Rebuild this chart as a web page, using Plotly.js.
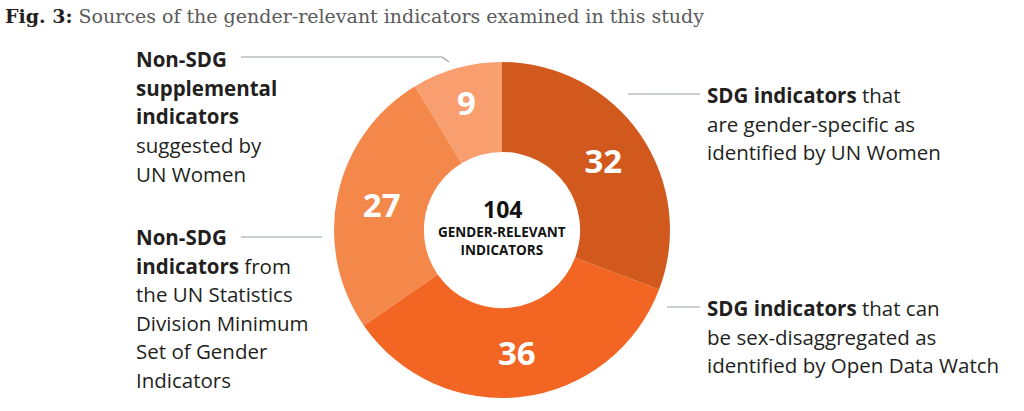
<!DOCTYPE html>
<html>
<head>
<meta charset="utf-8">
<script src="https://cdn.plot.ly/plotly-3.0.1.min.js"></script>
<style>html,body{margin:0;padding:0;background:#fff;}#chart{width:1024px;height:411px;}</style>
</head>
<body>
<div id="chart"></div>
<script>
// ---- data ----
const categories = [
  "SDG indicators that are gender-specific as identified by UN Women",
  "SDG indicators that can be sex-disaggregated as identified by Open Data Watch",
  "Non-SDG indicators from the UN Statistics Division Minimum Set of Gender Indicators",
  "Non-SDG supplemental indicators suggested by UN Women"
];
const values = [32, 36, 27, 9];
const sliceColors = ["#D1591E", "#F26522", "#F4874A", "#F89E6F"];
const titleBold = "Fig. 3:";
const titleRest = " Sources of the gender-relevant indicators examined in this study";
const centerTotal = "104";
const centerLines = ["GENDER-RELEVANT", "INDICATORS"];
const labelTopLeft = ["<b>Non-SDG</b>", "<b>supplemental</b>", "<b>indicators</b>", "suggested by", "UN Women"];
const labelBottomLeft = ["<b>Non-SDG</b>", "<b>indicators</b> from", "the UN Statistics", "Division Minimum", "Set of Gender", "Indicators"];
const labelTopRight = ["<b>SDG indicators</b> that", "are gender-specific as", "identified by UN Women"];
const labelBottomRight = ["<b>SDG indicators</b> that can", "be sex-disaggregated as", "identified by Open Data Watch"];

// ---- layout helpers ----
const W = 1024, H = 411;
const px = x => x / W;
const py = y => 1 - y / H;
const cx = 502, cy = 230, R = 168;

const textFont = {family: "Open Sans, sans-serif", size: 20.5, color: "#231F20"};
const annotations = [];
function block(lines, x, y0, step) {
  lines.forEach((t, i) => {
    annotations.push({
      text: t, x: px(x), y: py(y0 + i * step), xref: "paper", yref: "paper",
      xanchor: "left", yanchor: "middle", showarrow: false, font: textFont
    });
  });
}
block(labelTopLeft, 134, 59, 28.7);
block(labelBottomLeft, 134, 237, 28.5);
block(labelTopRight, 705, 95, 28.5);
block(labelBottomRight, 705, 308, 28.5);

annotations.push({
  text: "<b>" + titleBold + "</b><span style='color:#5a5a5a'>" + titleRest + "</span>",
  x: px(3), y: py(16), xref: "paper", yref: "paper", xanchor: "left", yanchor: "middle",
  showarrow: false, font: {family: "DejaVu Serif, serif", size: 19, color: "#231F20"}
});
annotations.push({
  text: "<b>" + centerTotal + "</b>", x: px(cx), y: py(209), xref: "paper", yref: "paper",
  xanchor: "center", yanchor: "middle", showarrow: false,
  font: {family: "Open Sans, sans-serif", size: 23, color: "#111"}
});
annotations.push({
  text: centerLines.map(t => "<b>" + t + "</b>").join("<br>"),
  x: px(cx), y: py(241), xref: "paper", yref: "paper",
  xanchor: "center", yanchor: "middle", showarrow: false,
  font: {family: "Open Sans, sans-serif", size: 13.5, color: "#111"}
});

const lineStyle = {color: "#9aa0a6", width: 1.2};
function seg(x0, y0, x1, y1) {
  return {type: "line", xref: "paper", yref: "paper", x0: px(x0), y0: py(y0), x1: px(x1), y1: py(y1), line: lineStyle};
}
const shapes = [
  seg(241, 57, 442, 57), seg(442, 57, 449, 62),
  seg(241, 237, 322, 237),
  seg(628, 94, 700, 94),
  seg(667, 307, 700, 307)
];

const trace = {
  type: "pie",
  labels: categories,
  values: values,
  marker: {colors: sliceColors, line: {width: 0}},
  hole: 0.465,
  sort: false,
  direction: "clockwise",
  rotation: 0,
  textinfo: "value",
  texttemplate: "<b>%{value}</b>",
  textposition: "inside",
  insidetextorientation: "horizontal",
  textfont: {family: "Open Sans, sans-serif", size: 33, color: "#ffffff"},
  domain: {x: [px(cx - R), px(cx + R)], y: [py(cy + R), py(cy - R)]},
  showlegend: false,
  hoverinfo: "label+value"
};

const layout = {
  width: W, height: H,
  margin: {l: 0, r: 0, t: 0, b: 0},
  paper_bgcolor: "#ffffff",
  showlegend: false,
  annotations: annotations,
  shapes: shapes
};
Plotly.newPlot("chart", [trace], layout, {displayModeBar: false, staticPlot: true});
</script>
</body>
</html>
